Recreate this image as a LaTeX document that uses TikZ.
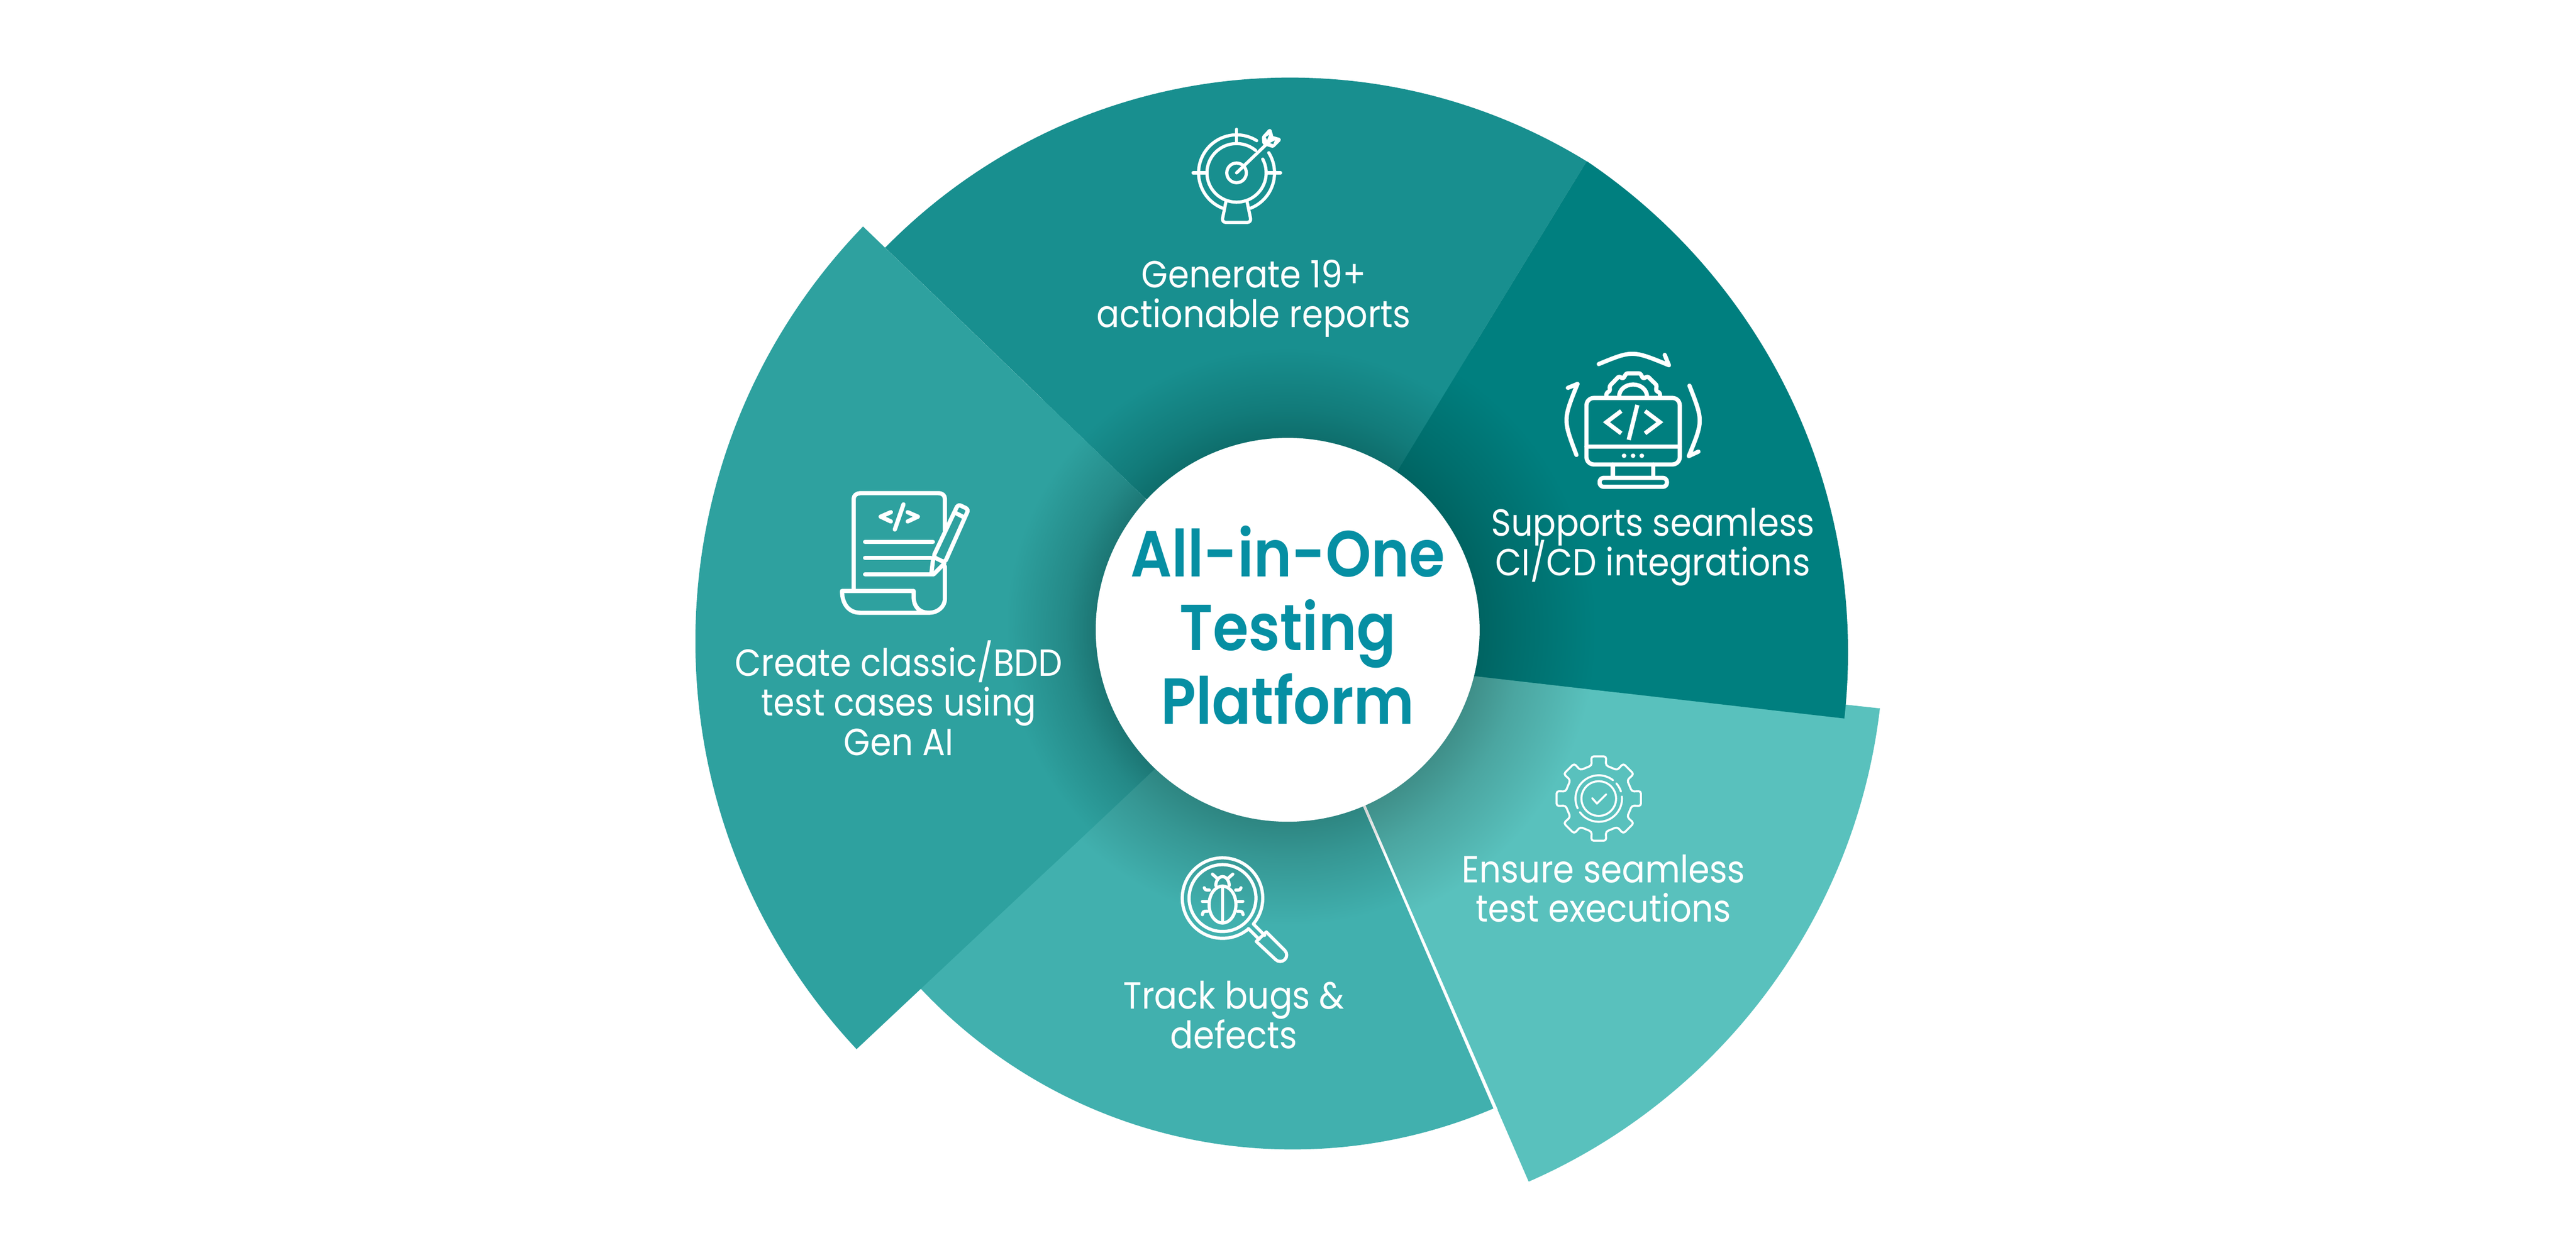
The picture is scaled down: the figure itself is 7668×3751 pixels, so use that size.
\documentclass[tikz,border=0pt]{standalone}
\usepackage{fontspec}
\setmainfont{Poppins}[FakeStretch=0.9]
\newfontfamily\titlefont{Poppins}[BoldFont={* SemiBold},FakeStretch=0.89]
\newcommand{\tightLines}{\lineskiplimit=-100pt\relax}
\definecolor{cTop}{HTML}{188F8F}\definecolor{cTopD}{HTML}{0E6E6C}
\definecolor{cDark}{HTML}{007F7F}\definecolor{cDarkD}{HTML}{006462}
\definecolor{cLeft}{HTML}{2EA19F}\definecolor{cLeftD}{HTML}{1C7674}
\definecolor{cBot}{HTML}{41B0AE}\definecolor{cBotD}{HTML}{2E8682}
\definecolor{cLight}{HTML}{59C1BD}\definecolor{cLightD}{HTML}{3F8F89}
\definecolor{cTitle}{HTML}{068FA3}
\pgfdeclareradialshading{shTop}{\pgfpointorigin}{color(0bp)=(cTopD);color(14.3bp)=(cTopD);color(16.5bp)=(cTopD!60!cTop);color(21bp)=(cTop);color(50bp)=(cTop)}
\pgfdeclareradialshading{shDark}{\pgfpointorigin}{color(0bp)=(cDarkD);color(14.3bp)=(cDarkD);color(17bp)=(cDarkD!65!cDark);color(23bp)=(cDark);color(50bp)=(cDark)}
\pgfdeclareradialshading{shLeft}{\pgfpointorigin}{color(0bp)=(cLeftD);color(14.3bp)=(cLeftD);color(16.5bp)=(cLeftD!55!cLeft);color(21bp)=(cLeft);color(50bp)=(cLeft)}
\pgfdeclareradialshading{shBot}{\pgfpointorigin}{color(0bp)=(cBotD);color(14.3bp)=(cBotD);color(17bp)=(cBotD!60!cBot);color(22bp)=(cBot);color(50bp)=(cBot)}
\pgfdeclareradialshading{shLight}{\pgfpointorigin}{color(0bp)=(cLightD);color(14.3bp)=(cLightD);color(17.5bp)=(cLightD!55!cLight);color(23bp)=(cLight);color(50bp)=(cLight)}
\tikzset{
 labeltext/.style={text=white,align=center,font=\tightLines\fontsize{32}{33.5}\selectfont,inner sep=0pt},
 titletext/.style={text=cTitle,align=center,font=\tightLines\titlefont\bfseries\fontsize{55}{62.4}\selectfont,inner sep=0pt},
 iconline/.style={draw=white,line cap=round,line join=round},
 iconA/.style={shift={(3400,300)},x=0.003827cm,y=-0.003333cm,iconline,line width=0.095cm},
 iconB/.style={shift={(4550,1000)},x=0.003827cm,y=-0.003333cm,iconline,line width=0.125cm},
 iconC/.style={shift={(2400,1400)},x=0.003571cm,y=-0.003333cm,iconline,line width=0.125cm},
 iconD/.style={shift={(4550,2200)},x=0.003333cm,y=-0.003333cm,iconline,line width=0.06cm},
 iconE/.style={shift={(3450,2500)},x=0.003333cm,y=-0.003333cm,iconline,line width=0.095cm},
}
\begin{document}
\begin{tikzpicture}[x=0.01cm,y=-0.01cm]
\useasboundingbox (0,0) rectangle (7668,3751);
\fill[white] (0,0) rectangle (7668,3751);
\coordinate (C) at (3833,1875);
% top sector
\begin{scope}
\clip (3500,1571) -- (2400,511) -- (2300,0) -- (4800,0) -- (4800,354) -- (3900,1827) -- cycle;
\clip (3840,1918) circle (1687);
\fill[cTop] (C) circle (1800);
\shade[shading=shTop] (C) circle (1000);
\end{scope}
% bottom sector
\begin{scope}
\clip (3700,1800) -- (2300,2500) -- (2300,3751) -- (4640,3751) -- (4056,2398) -- cycle;
\clip (3848,1902) circle (1520);
\fill[cBot] (C) circle (1700);
\shade[shading=shBot] (C) circle (1000);
\end{scope}
% light sector
\begin{scope}
\clip (4065,2398) -- (4550,3517) -- (5000,3751) -- (5800,3751) -- (5800,2131) -- (5596,2109) -- (4390,1977) -- (3900,2100) -- cycle;
\clip (3844,1901) circle (1764);
\fill[cLight] (C) circle (2100);
\shade[shading=shLight] (C) circle (1000);
\end{scope}
% dark sector
\begin{scope}
\clip (3900,1827) -- (4800,354) -- (5700,354) -- (5700,2163) -- (5490,2139) -- (4000,1968) -- cycle;
\clip (3738,1942) circle (1763);
\fill[cDark] (C) circle (2000);
\shade[shading=shDark] (C) circle (1000);
\end{scope}
% white seam, greyed in the hub's shadow
\draw[white,line width=0.07cm] (4060,2398) -- (4455,3305);
\draw[black!16,line width=0.07cm] (4060,2398) -- (4080,2444);
\draw[black!11,line width=0.07cm] (4080,2444) -- (4100,2490);
\draw[black!6,line width=0.07cm] (4100,2490) -- (4120,2536);
% left sector
\begin{scope}
\clip (3407,1482) -- (2300,415) -- (1900,415) -- (1900,3500) -- (2300,3358) -- (3436,2291) -- (3700,1900) -- cycle;
\clip (3847,1909) circle (1777);
\fill[cLeft] (C) circle (2100);
\shade[shading=shLeft] (C) circle (1000);
\end{scope}
% centre disc and title
\node[circle,fill=white,minimum size=11.42cm,inner sep=0pt] (hub) at (C) {};
\node[titletext,anchor=base] (title) at (3833,2156) {All-in-One\\Testing\\Platform};
% labels
\node[labeltext,anchor=base] (lblTop) at (3732,975) {Generate 19+\\actionable reports};
\node[labeltext,anchor=base] (lblDark) at (4920,1714) {Supports seamless\\CI/CD integrations};
\node[labeltext,anchor=base] (lblLight) at (4773,2745) {Ensure seamless\\test executions};
\node[labeltext,anchor=base] (lblBot) at (3673,3122) {Track bugs \&\\defects};
\node[labeltext,anchor=base] (lblLeft) at (2675,2249) {Create classic/BDD\\test cases using\\Gen AI};
% icon: target
\begin{scope}[iconA]
\draw (733,645) ++(-28:230 and 262) arc[start angle=-28,end angle=310,x radius=230,y radius=262];
\draw (733,645) ++(-32:295 and 340) arc[start angle=-32,end angle=68,x radius=295,y radius=340];
\draw (733,645) ++(112:295 and 340) arc[start angle=112,end angle=302,x radius=295,y radius=340];
\draw (733,255) -- (733,383);
\draw (395,645) -- (503,645);
\draw (963,645) -- (1075,645);
\draw (733,645) ellipse[x radius=76,y radius=88];
\draw (733,645) -- (960,395);
\draw[fill=white,rounded corners=0.02cm] (945,378) -- (942,325) -- (992,262) -- (1008,328) -- (1068,347) -- (1015,408) -- (965,390) -- cycle;
\fill[cTop] (985,305) -- (960,325) -- (970,350) -- cycle (1030,355) -- (992,378) -- (1018,388) -- cycle;
\draw[rounded corners=0.12cm] (650,905) -- (618,1088) -- (848,1088) -- (815,905);
\end{scope}
% icon: monitor
\begin{scope}[iconB]
\draw[rounded corners=0.22cm] (450,555) rectangle (1175,1150);
\draw (450,992) -- (1175,992);
\fill[white] (742,1072) ellipse[x radius=18,y radius=20] (812,1072) ellipse[x radius=18,y radius=20] (880,1072) ellipse[x radius=18,y radius=20];
\draw[line cap=butt,miter limit=10,line join=miter] (720,672) -- (605,772) -- (720,872);
\draw[line cap=butt,miter limit=10,line join=miter] (905,672) -- (1020,772) -- (905,872);
\draw[line cap=butt] (845,618) -- (778,930);
\draw (655,1150) -- (655,1255);
\draw (968,1150) -- (968,1255);
\draw[rounded corners=0.12cm] (552,1270) rectangle (1075,1350);
\draw[rounded corners=0.04cm] (604,540) -- (606,510) -- (632,492) -- (630,448) -- (702,362) -- (735,382) -- (760,335) -- (868,335) -- (890,382) -- (925,362) -- (995,440) -- (990,490) -- (1020,510) -- (1022,540);
\draw (704,540) arc[start angle=180,end angle=360,x radius=108,y radius=105];
\draw (545,252) .. controls (807,128) .. (1090,262);
\draw (1058,170) -- (1090,262);
\draw (372,1065) .. controls (268,750) .. (380,430);
\draw (380,430) -- (305,465);
\draw (1250,445) .. controls (1357,760) .. (1245,1075);
\draw (1245,1075) -- (1320,1035);
\end{scope}
% icon: scroll and pencil
\begin{scope}[iconC]
\draw (395,1075) -- (395,255) .. controls (395,225) and (420,205) .. (450,205) -- (1100,205) .. controls (1135,205) and (1155,225) .. (1155,255) -- (1155,540);
\draw (1155,860) -- (1155,1150) .. controls (1155,1225) and (1090,1275) .. (1025,1275) -- (450,1275) .. controls (350,1275) and (298,1190) .. (298,1080) -- (895,1080) -- (895,1130) .. controls (895,1220) and (940,1275) .. (1025,1275);
\draw (705,375) -- (620,415) -- (705,458);
\draw (845,375) -- (930,415) -- (845,458);
\draw (810,305) -- (738,530);
\draw (490,640) -- (1055,640);
\draw (490,785) -- (1040,785);
\draw (490,930) -- (1060,930);
\draw[rounded corners=0.08cm] (1058,775) -- (1265,305) -- (1352,350) -- (1155,825) -- cycle;
\draw (1250,385) -- (1312,420);
\draw (1058,785) -- (1042,930) -- (1062,930) -- (1150,835);
\end{scope}
% icon: gear
\begin{scope}[iconD]
\begin{scope}[shift={(628,533)}]
\draw[rounded corners=0.07cm] (-102:303) -- (-100:383) -- (-80:383) -- (-78:303)
 \foreach \a in {45,90,...,315} { -- (\a-102:303) -- (\a-100:383) -- (\a-80:383) -- (\a-78:303) } -- cycle;
\draw (0,0) circle (155);
\draw (-52:208) arc[start angle=-52,end angle=-205,radius=208];
\draw (-40.7:208) arc[start angle=-40.7,end angle=-17.5,radius=208];
\draw (-5:208) arc[start angle=-5,end angle=144,radius=208];
\draw (-58,-3) -- (-16,45) -- (67,-38);
\end{scope}
\end{scope}
% icon: magnifier with bug
\begin{scope}[iconE]
\draw (568,522) ++(50:360) arc[start angle=50,end angle=400,radius=360];
\draw (568,522) circle (299);
\draw (800,795) -- (895,890);
\draw (845,755) -- (945,855);
\draw (870,910) -- (960,825) -- (1125,990) arc[start angle=-45,end angle=135,radius=58] -- cycle;
\draw (568,580) ellipse[x radius=120,y radius=165];
\draw (568,415) -- (568,745);
\draw (508,410) arc[start angle=180,end angle=360,x radius=60,y radius=80];
\draw (520,345) -- (478,308);
\draw (618,345) -- (660,308);
\draw (450,450) .. controls (415,450) .. (405,430);
\draw (686,450) .. controls (725,450) .. (733,430);
\draw (430,552) -- (388,552);
\draw (706,552) -- (750,552);
\draw (435,640) .. controls (395,640) .. (388,670);
\draw (703,640) .. controls (745,640) .. (752,670);
\end{scope}
\end{tikzpicture}
\end{document}
